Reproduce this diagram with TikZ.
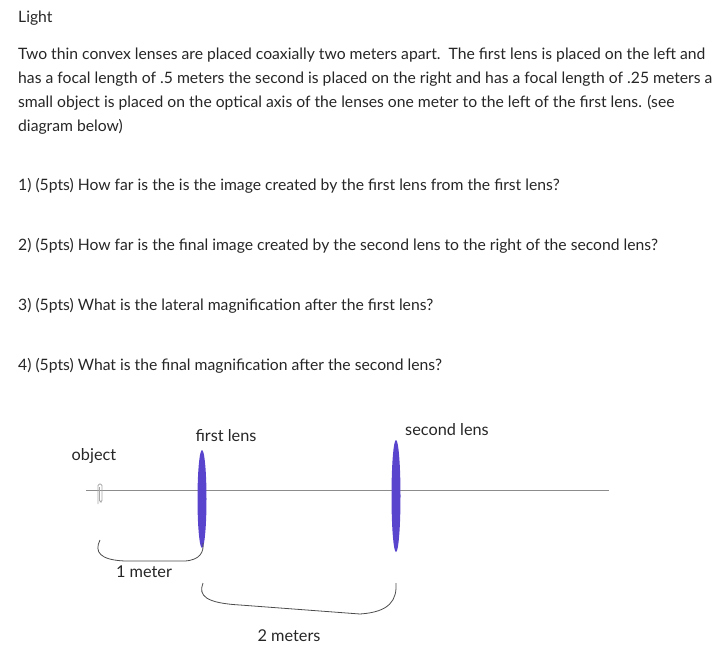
\documentclass[tikz,border=0pt]{standalone}
\usepackage{fontspec}
\setmainfont{Lato}
\usetikzlibrary{shapes.geometric}
\definecolor{lenscol}{RGB}{88,68,205}
\begin{document}
\begin{tikzpicture}[x=1pt,y=-1pt,
  txt/.style={anchor=west,inner sep=0pt,font=\fontsize{15.7}{18}\selectfont,text=black!85},
  lbl/.style={inner sep=0pt,font=\fontsize{16.3}{19}\selectfont,text=black!85},
  lens/.style={fill=lenscol,draw=none},
  brace/.style={draw=black!70,line width=0.8pt}]
\useasboundingbox (0,0) rectangle (720,659);
\node[txt] (t0) at (18,18) {Light};
\node[txt] (p1) at (18,55) {Two thin convex lenses are placed coaxially two meters apart.\ \ The first lens is placed on the left and};
\node[txt] (p2) at (18,79) {has a focal length of .5 meters the second is placed on the right and has a focal length of .25 meters a};
\node[txt] (p3) at (18,103) {small object is placed on the optical axis of the lenses one meter to the left of the first lens. (see};
\node[txt] (p4) at (18,127) {diagram below)};
\node[txt] (q1) at (18,186) {1) (5pts) How far is the is the image created by the first lens from the first lens?};
\node[txt] (q2) at (18,246) {2) (5pts) How far is the final image created by the second lens to the right of the second lens?};
\node[txt] (q3) at (18,306) {3) (5pts) What is the lateral magnification after the first lens?};
\node[txt] (q4) at (18,366) {4) (5pts) What is the final magnification after the second lens?};
% axis
\coordinate (a0) at (86,490);
\coordinate (a1) at (609,490);
\draw[black!45,line width=1pt] (a0) -- (a1);
% object (paperclip)
\draw[black!35,line width=0.8pt,rounded corners=1.5pt] (98,504) -- (98,484) -- (102,484) -- (102,502) -- (99.5,502) -- (99.5,487);
% lenses
\node[lens,ellipse,minimum width=9pt,minimum height=98pt,inner sep=0pt] (L1) at (202,499) {};
\node[lens,ellipse,minimum width=9pt,minimum height=112pt,inner sep=0pt] (L2) at (396,496) {};
% labels
\node[lbl] (ob) at (94,456) {object};
\node[lbl] (fl) at (226,436) {first lens};
\node[lbl] (sl) at (447,430) {second lens};
% braces
\draw[brace] (100,540) .. controls (94,552) and (100,560) .. (125,561) -- (185,561) .. controls (200,560) and (204,552) .. (203,543);
\draw[brace] (203,583) .. controls (198,596) and (206,603) .. (240,605) -- (360,614) .. controls (390,612) and (397,600) .. (396,583);
\node[lbl] (m1) at (144,572) {1 meter};
\node[lbl] (m2) at (289,636) {2 meters};
\end{tikzpicture}
\end{document}
